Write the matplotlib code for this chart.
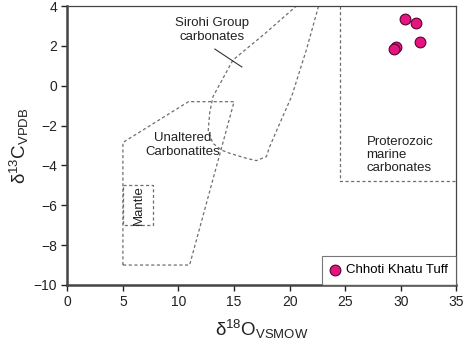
import matplotlib
matplotlib.use("Agg")
import matplotlib.pyplot as plt

plt.rcParams['font.family'] = ['Liberation Sans', 'DejaVu Sans']
plt.rcParams['mathtext.fontset'] = 'custom'
plt.rcParams['mathtext.rm'] = 'Liberation Sans'
plt.rcParams['mathtext.it'] = 'Liberation Sans:italic'

# Data: Chhoti Khatu Tuff samples
tuff_d18O = [30.4, 31.35, 31.7, 29.6, 29.4]
tuff_d13C = [3.33, 3.13, 2.21, 1.96, 1.83]

# Field outlines
carbonatite_x = [5, 5, 10.9, 15, 11, 5]
carbonatite_y = [-9, -2.85, -0.8, -0.8, -9, -9]

mantle_x = [5.05, 7.7, 7.7, 5.05, 5.05]
mantle_y = [-5.0, -5.0, -7.0, -7.0, -5.0]

sirohi_x = [20.6, 22.6, 21.5, 20.2, 19.1, 18.2, 17.9, 17.0, 16.1, 14.6, 13.87, 13.1, 12.67, 12.8, 13.1, 14.9, 17.8, 20.6]
sirohi_y = [4.0, 4.0, 1.8, -0.5, -1.9, -3.06, -3.56, -3.76, -3.64, -3.39, -3.23, -2.89, -2.3, -1.38, -0.55, 1.29, 2.63, 4.0]

proterozoic_x = [24.5, 24.5, 35]
proterozoic_y = [4, -4.8, -4.8]

xticks = [0, 5, 10, 15, 20, 25, 30, 35]
yticks = [-10, -8, -6, -4, -2, 0, 2, 4]

fig = plt.figure(figsize=(4.74, 3.54), dpi=100)
ax = fig.add_axes([0.142, 0.195, 0.821, 0.788])

dash = dict(color='#6e6e6e', lw=0.9, ls=(0, (2.5, 2)))
ax.plot(carbonatite_x, carbonatite_y, **dash)
ax.plot(mantle_x, mantle_y, **dash)
ax.plot(sirohi_x, sirohi_y, **dash)
ax.plot(proterozoic_x, proterozoic_y, **dash)

# leader line
ax.plot([13.27, 15.7], [1.84, 0.94], color='#333333', lw=0.8)

ax.scatter(tuff_d18O, tuff_d13C, s=60, color='#e5157f', edgecolor='#5a0030',
           linewidth=0.8, zorder=5, label='Chhoti Khatu Tuff')

tkw = dict(fontsize=9.5, color='#222222', linespacing=1.15)
ax.text(13.0, 2.8, 'Sirohi Group\ncarbonates', ha='center', va='center', **tkw)
ax.text(10.4, -2.97, 'Unaltered\nCarbonatites', ha='center', va='center', **tkw)
ax.text(26.9, -3.48, 'Proterozoic\nmarine\ncarbonates', ha='left', va='center', **tkw)
ax.text(6.4, -6.0, 'Mantle', rotation=90, ha='center', va='center', fontsize=9.5, color='#222222')

ax.set_xlim(0, 35)
ax.set_ylim(-10, 4)
ax.set_xticks(xticks)
ax.set_yticks(yticks)
ax.tick_params(labelsize=10, colors='#222222', direction='out', length=4, width=1)

for s in ['left', 'bottom']:
    ax.spines[s].set_linewidth(1.8)
    ax.spines[s].set_color('#444444')
for s in ['top', 'right']:
    ax.spines[s].set_linewidth(0.9)
    ax.spines[s].set_color('#444444')

ax.set_xlabel(r'δ$^{18}$O$_{\mathrm{VSMOW}}$', fontsize=13.5, color='#222222', labelpad=6)
ax.set_ylabel(r'δ$^{13}$C$_{\mathrm{VPDB}}$', fontsize=13.5, color='#222222', labelpad=2)

leg = ax.legend(loc='lower right', borderaxespad=0, fontsize=9.5, frameon=True,
                fancybox=False, handletextpad=0.45, borderpad=0.65, handlelength=0.7,
                scatterpoints=1)
leg.get_frame().set_edgecolor('#555555')
leg.get_frame().set_linewidth(0.8)

fig.savefig('out.png', dpi=100)
